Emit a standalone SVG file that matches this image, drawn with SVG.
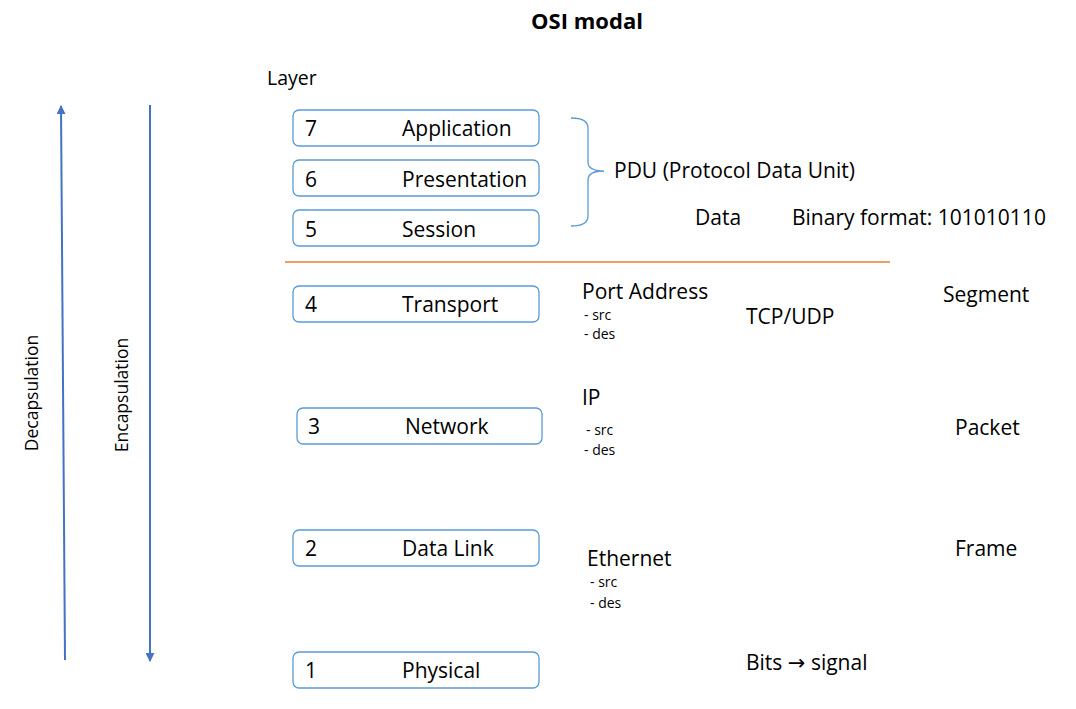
<svg xmlns="http://www.w3.org/2000/svg" width="1076" height="709" viewBox="0 0 1076 709">
<style>
text{font-family:"Open Sans","Noto Sans",sans-serif;fill:#000}
.t{font-size:21px}
.s{font-size:14px}
.box{fill:#fff;stroke:#5b9bd5;stroke-width:1.3}
.ln{stroke:#4472c4;stroke-width:2;fill:none}
</style>
<defs>
<marker id="ah" viewBox="0 0 10 10" refX="9" refY="5" markerWidth="4.5" markerHeight="4.5" orient="auto-start-reverse"><path d="M0,0L10,5L0,10z" fill="#4472c4"/></marker>
</defs>
<rect width="1076" height="709" fill="#fff"/>
<text x="587" y="29" text-anchor="middle" style="font-size:22px;font-weight:bold">OSI modal</text>
<text x="267" y="85" style="font-size:19.5px">Layer</text>
<g id="connectors">
<line class="ln" x1="65" y1="660" x2="61" y2="106" marker-end="url(#ah)"/>
<line class="ln" x1="150" y1="105" x2="150" y2="661" marker-end="url(#ah)"/>
<line x1="285" y1="262" x2="890" y2="262" stroke="#ed7d31" stroke-width="1.5"/>
<path d="M571,118 Q588,118 588,128 L588,162 Q588,171 604,171 Q588,171 588,180 L588,216 Q588,226 571,226" fill="none" stroke="#5b9bd5" stroke-width="1.3"/>
</g>
<g transform="translate(38,393) rotate(-90)"><text text-anchor="middle" style="font-size:17.5px">Decapsulation</text></g>
<g transform="translate(128,395) rotate(-90)"><text text-anchor="middle" style="font-size:17.5px">Encapsulation</text></g>
<g id="n7"><rect class="box" x="293" y="110" width="246" height="36" rx="6"/><text class="t" x="305" y="136">7</text><text class="t" x="402" y="136">Application</text></g>
<g id="n6"><rect class="box" x="293" y="160" width="246" height="36" rx="6"/><text class="t" x="305" y="187">6</text><text class="t" x="402" y="187">Presentation</text></g>
<g id="n5"><rect class="box" x="293" y="210" width="246" height="36" rx="6"/><text class="t" x="305" y="237">5</text><text class="t" x="402" y="237">Session</text></g>
<g id="n4"><rect class="box" x="293" y="286" width="246" height="36" rx="6"/><text class="t" x="305" y="312">4</text><text class="t" x="402" y="312">Transport</text></g>
<g id="n3"><rect class="box" x="297" y="408" width="245" height="36" rx="6"/><text class="t" x="308" y="434">3</text><text class="t" x="405" y="434">Network</text></g>
<g id="n2"><rect class="box" x="293" y="530" width="246" height="36" rx="6"/><text class="t" x="305" y="556">2</text><text class="t" x="402" y="556">Data Link</text></g>
<g id="n1"><rect class="box" x="293" y="652" width="246" height="36" rx="6"/><text class="t" x="305" y="678">1</text><text class="t" x="402" y="678">Physical</text></g>
<text class="t" x="614" y="178">PDU (Protocol Data Unit)</text>
<text class="t" x="695" y="225">Data</text>
<text class="t" x="792" y="225">Binary format: 101010110</text>
<text class="t" x="582" y="299">Port Address</text>
<text class="s" x="584" y="320">- src</text>
<text class="s" x="584" y="339">- des</text>
<text class="t" x="746" y="324">TCP/UDP</text>
<text class="t" x="943" y="302">Segment</text>
<text class="t" x="582" y="405">IP</text>
<text class="s" x="586" y="435">- src</text>
<text class="s" x="584" y="455">- des</text>
<text class="t" x="955" y="435">Packet</text>
<text class="t" x="955" y="556">Frame</text>
<text class="t" x="587" y="566">Ethernet</text>
<text class="s" x="590" y="587">- src</text>
<text class="s" x="590" y="608">- des</text>
<text class="t" x="746" y="670">Bits <tspan style="font-family:'DejaVu Sans',sans-serif">→</tspan> signal</text>
</svg>
